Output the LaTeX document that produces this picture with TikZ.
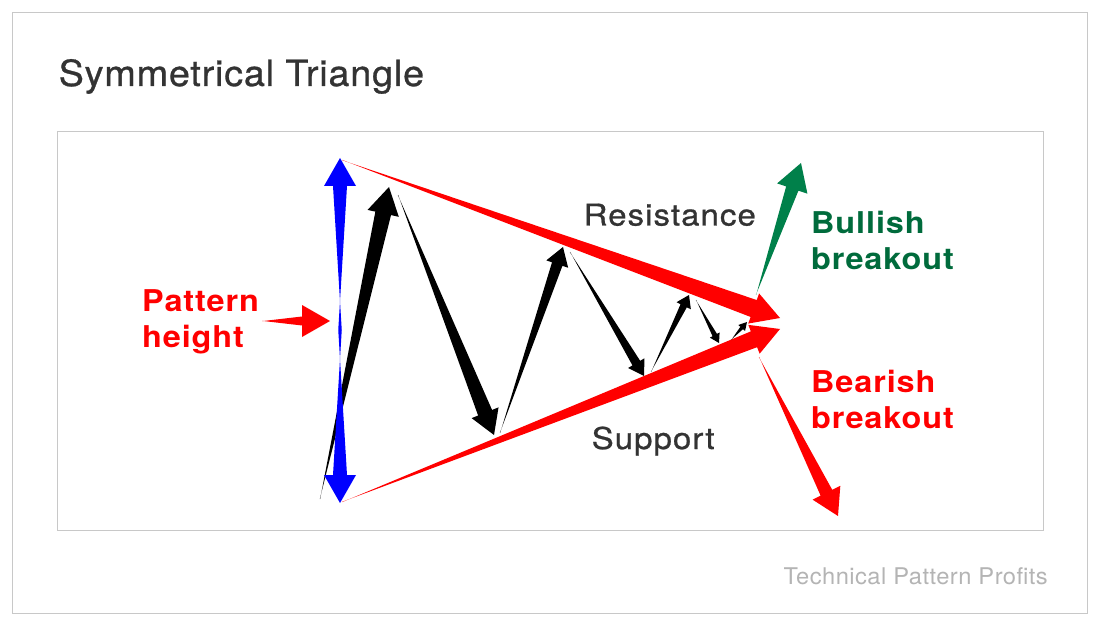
\documentclass[tikz,border=0pt]{standalone}
\usepackage{fontspec}
\setmainfont{TeX Gyre Heros}
\newfontfamily\titlefont[FakeStretch=1.05,LetterSpace=2.2,FakeBold=0.8]{TeX Gyre Heros}
\newfontfamily\plainfont[FakeStretch=1.1,LetterSpace=3.5,FakeBold=0.8]{TeX Gyre Heros}
\newfontfamily\boldfont[FakeStretch=1.08,LetterSpace=3]{TeX Gyre Heros Bold}
\newfontfamily\brandfont[FakeStretch=1.03,LetterSpace=2]{TeX Gyre Heros}
\usetikzlibrary{calc}
\definecolor{txtdark}{HTML}{333333}
\definecolor{framegray}{HTML}{C8C8C8}
\definecolor{brandgray}{HTML}{B4B4B4}
\definecolor{bullgreen}{HTML}{00804A}
\definecolor{bulltext}{HTML}{006B3C}
\definecolor{pure}{HTML}{FF0000}
% tail, tip, tail width, neck width, head width, head length, colour
\newcommand{\taperarrow}[7]{%
  \coordinate (nk) at ($(#2)!#6pt!(#1)$);
  \fill[#7]
    ($(#1)!#3pt/2!90:(#2)$) --
    ($(nk)!#4pt/2!-90:(#2)$) -- ($(nk)!#5pt/2!-90:(#2)$) -- (#2) --
    ($(nk)!#5pt/2!90:(#2)$) -- ($(nk)!#4pt/2!90:(#2)$) --
    ($(#1)!#3pt/2!-90:(#2)$) -- cycle;
}
\tikzset{
  frame/.style={draw=framegray,line width=1.1pt,fill=none},
  label/.style={font=\fontsize{30}{36}\selectfont\boldfont,align=left,anchor=base west,inner sep=0pt},
  plain/.style={font=\fontsize{30}{36}\selectfont\plainfont,text=txtdark,anchor=base west,inner sep=0pt}
}
\begin{document}
\begin{tikzpicture}[x=1pt,y=-1pt]
\useasboundingbox (0,0) rectangle (1100,628);
\fill[white] (0,0) rectangle (1100,628);
\draw[frame] (12.5,12.5) rectangle (1087.5,613.5);
\draw[frame] (57.5,131.5) rectangle (1043.5,530.5);

\node[anchor=base west,inner sep=0pt,text=txtdark,font=\fontsize{36}{40}\selectfont\titlefont] (title) at (58.5,86) {Symmetrical Triangle};
\node[anchor=base east,inner sep=0pt,text=brandgray,font=\fontsize{23}{28}\selectfont\brandfont] (brand) at (1048,584) {Technical Pattern Profits};

\coordinate (rtT) at (342,160); \coordinate (rtH) at (780,318);
\coordinate (rbT) at (342,502); \coordinate (rbH) at (780,329);
\taperarrow{rtT}{rtH}{0.3}{18}{32}{28}{pure}
\taperarrow{rbT}{rbH}{0.3}{17}{31}{28}{pure}

\coordinate (a1) at (320,499); \coordinate (a2) at (389,187);
\coordinate (b1) at (398,195); \coordinate (b2) at (494,435);
\coordinate (c1) at (500,433); \coordinate (c2) at (563,247);
\coordinate (d1) at (570,252); \coordinate (d2) at (644,376);
\coordinate (e1) at (651,372); \coordinate (e2) at (689,295);
\coordinate (f1) at (696,300); \coordinate (f2) at (719,343);
\coordinate (g1) at (731,340); \coordinate (g2) at (747,322);
\taperarrow{a1}{a2}{0.3}{16}{32}{27}{black}
\taperarrow{b1}{b2}{0.3}{15}{29}{24}{black}
\taperarrow{c1}{c2}{0.3}{11}{23}{18}{black}
\taperarrow{d1}{d2}{0.3}{9}{19}{15}{black}
\taperarrow{e1}{e2}{0.3}{7}{16}{12}{black}
\taperarrow{f1}{f2}{0.3}{5}{11}{9}{black}
\taperarrow{g1}{g2}{0.3}{3.5}{9}{8}{black}

\coordinate (mid) at (340,330); \coordinate (up) at (340,158); \coordinate (dn) at (340,503);
\taperarrow{mid}{up}{3.5}{14}{32}{28}{blue}
\taperarrow{mid}{dn}{3.5}{14}{32}{28}{blue}

\coordinate (gT) at (756,295); \coordinate (gH) at (801,163);
\taperarrow{gT}{gH}{0.3}{13}{32}{27}{bullgreen}
\coordinate (sT) at (759,357); \coordinate (sH) at (838,516);
\taperarrow{sT}{sH}{0.3}{13}{31}{26}{pure}
\coordinate (pT) at (262,321); \coordinate (pH) at (330,321);
\taperarrow{pT}{pH}{0.3}{9}{32}{28}{pure}

\node[plain] (res) at (583.5,225.5) {Resistance};
\node[plain] (sup) at (591.5,449) {Support};
\node[label,text=bulltext] (bull) at (811,270) {Bullish\\breakout};
\node[label,text=pure] (bear) at (811,428) {Bearish\\breakout};
\node[label,text=pure] (pat) at (142,347) {Pattern\\height};
\end{tikzpicture}
\end{document}
